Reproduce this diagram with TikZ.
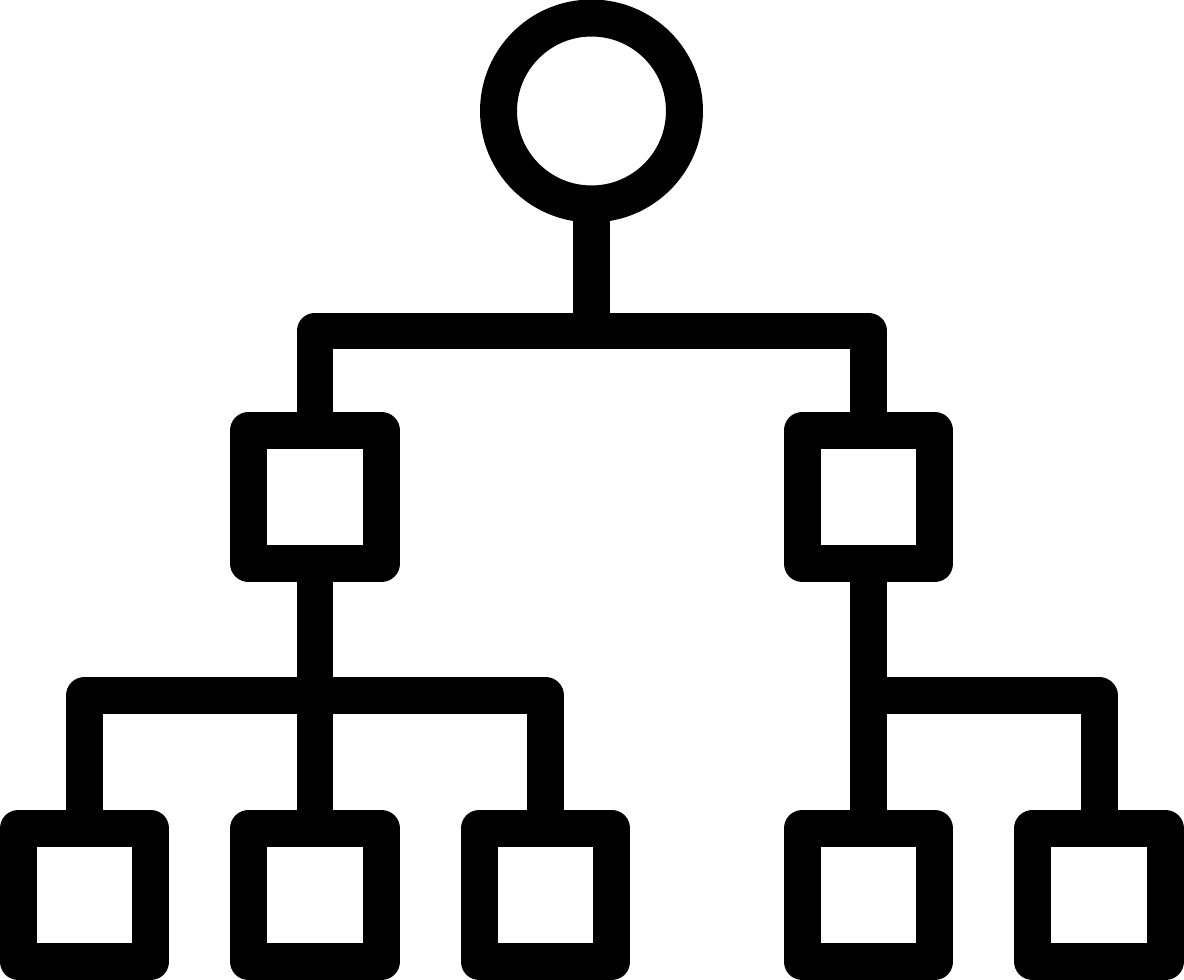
\documentclass[tikz,border=0pt]{standalone}
\begin{document}
\begin{tikzpicture}[x=0.02cm,y=-0.02cm,
 lw/.style={line width=0.74cm,line join=round},
 box/.style={draw,lw,rectangle,minimum size=2.66cm,inner sep=0pt,outer sep=0pt},
 root/.style={draw,lw,circle,minimum size=3.72cm,inner sep=0pt,outer sep=0pt},
 link/.style={draw,lw}]
\useasboundingbox (0,0) rectangle (1184,980);
\node[root] (r) at (591.5,111) {};
\node[box] (a) at (315,497) {};
\node[box] (b) at (868.5,497) {};
\node[box] (a1) at (84.5,895) {};
\node[box] (a2) at (315,895) {};
\node[box] (a3) at (545.5,895) {};
\node[box] (b1) at (868.5,895) {};
\node[box] (b2) at (1099,895) {};
\coordinate (t) at (591.5,331);
\coordinate (ab) at (315,695.5);
\coordinate (bb) at (868.5,695.5);
\draw[link] (a.north) |- (t) -| (b.north);
\draw[link] (r.south) -- (t);
\draw[link] (a1.north) |- (ab) -| (a3.north);
\draw[link] (a.south) -- (a2.north);
\draw[link] (b.south) -- (b1.north);
\draw[link] (bb) -| (b2.north);
\end{tikzpicture}
\end{document}
